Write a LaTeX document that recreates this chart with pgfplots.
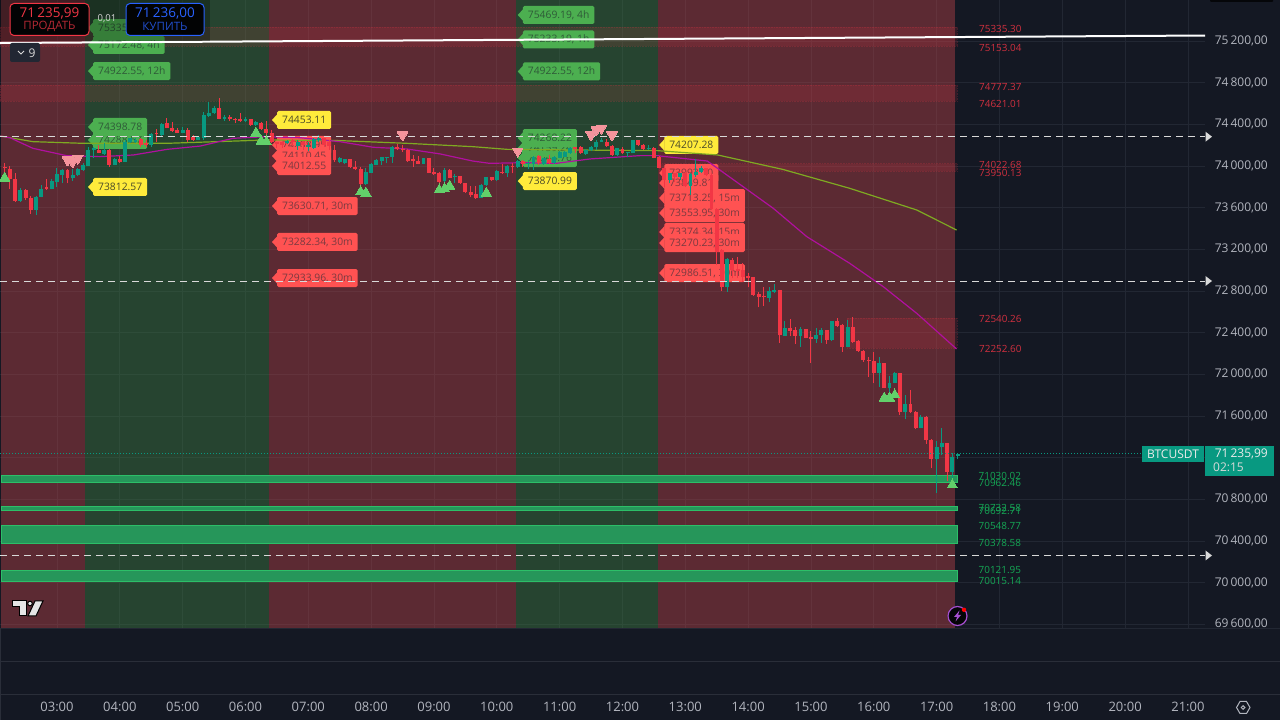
\documentclass[border=0pt]{standalone}
\usepackage{fontspec}
\setmainfont{Open Sans}
\usepackage{pgfplots}
\usepackage{pgfplotstable}
\pgfplotsset{compat=1.18}
\definecolor{bgc}{HTML}{141823}
\definecolor{gridc}{HTML}{222733}
\definecolor{sepc}{HTML}{2A2E39}
\definecolor{zr}{HTML}{B44248}
\definecolor{zg}{HTML}{3E7A41}
\definecolor{cred}{HTML}{F23645}
\definecolor{cgrn}{HTML}{089981}
\definecolor{lgrn}{HTML}{4CAF50}
\definecolor{lred}{HTML}{FF5252}
\definecolor{lyel}{HTML}{FFEB3B}
\definecolor{tick}{HTML}{B2B5BE}
\definecolor{rtxt}{HTML}{D0303F}
\definecolor{gtxt}{HTML}{14A855}
\definecolor{band}{HTML}{26965A}
\definecolor{bandl}{HTML}{2CBF68}
\definecolor{upt}{HTML}{62D06A}
\definecolor{dnt}{HTML}{F5949C}
\definecolor{ma1}{HTML}{7FAA22}
\definecolor{ma2}{HTML}{B0109F}
\definecolor{gtx}{HTML}{2F5A38}
\definecolor{rtx}{HTML}{7A3A40}
\definecolor{ytx}{HTML}{4A4A28}
\definecolor{buyb}{HTML}{2962FF}
\definecolor{purp}{HTML}{A64FD0}
\pgfplotstableread{
t o h l c
130 73990 74025 73945 73983
135 73971 73999 73779 73875
140 73878 73929 73657 73667
150 73766 73782 73673 73695
155 73695 73711 73539 73577
170 73795 73871 73769 73779
190 73961 73971 73833 73881
220 74153 74201 74121 74127
230 74153 74159 73993 74009
240 74063 74099 74031 74038
260 74255 74271 74185 74201
265 74217 74249 74185 74198
275 74319 74351 74233 74303
285 74409 74457 74361 74364
290 74364 74425 74329 74335
295 74345 74361 74313 74319
305 74345 74361 74233 74249
310 74275 74297 74239 74249
335 74559 74649 74447 74451
345 74473 74489 74435 74447
350 74447 74457 74409 74438
355 74447 74505 74425 74431
365 74451 74451 74387 74393
375 74415 74425 74345 74351
380 74351 74431 74297 74313
385 74313 74345 74217 74227
390 74233 74233 74169 74207
395 74227 74233 74175 74201
405 74249 74259 74195 74233
415 74233 74239 74153 74201
435 74265 74271 74185 74201
440 74233 74249 74153 74195
445 74153 74201 74041 74057
460 74063 74063 73983 73987
465 73987 74047 73961 73967
470 73971 73993 73817 73827
505 74182 74211 74153 74159
510 74163 74201 74137 74153
515 74156 74163 74041 74047
520 74063 74105 73993 74051
525 74051 74095 74015 74019
535 74073 74079 73929 73935
540 73942 73977 73916 73926
545 73932 73945 73839 73849
555 73961 73967 73881 73887
565 73903 73903 73827 73833
570 73833 73839 73740 73747
575 73747 73807 73699 73721
580 73727 73807 73686 73692
595 73891 73897 73859 73865
605 73945 74019 73923 73932
615 74000 74031 73929 73987
625 74047 74057 73993 74019
640 74095 74105 74012 74025
650 74063 74105 74019 74025
675 74179 74185 74121 74159
680 74185 74191 74115 74121
705 74233 74255 74185 74195
710 74195 74201 74099 74105
720 74166 74185 74115 74121
735 74249 74249 74191 74201
740 74201 74207 74153 74159
750 74169 74185 74073 74079
755 74089 74095 73977 73983
760 73977 73993 73801 73865
770 73929 73935 73849 73897
780 73935 73945 73801 73807
800 73977 73977 73903 73913
805 73913 73929 73577 73583
810 73583 73593 73049 73177
815 73193 73199 72803 72835
825 73097 73113 72921 73001
830 73007 73129 72921 72991
835 73001 73065 72889 72931
840 72943 72969 72835 72924
845 72931 72937 72755 72761
850 72771 72793 72643 72745
855 72755 72841 72655 72742
870 72809 72809 72303 72374
880 72444 72531 72367 72419
885 72425 72451 72291 72371
895 72435 72435 72345 72351
900 72355 72415 72111 72335
915 72422 72422 72291 72329
925 72511 72537 72457 72463
930 72473 72479 72217 72265
940 72451 72547 72303 72313
945 72319 72329 72217 72223
950 72223 72233 72121 72137
955 72137 72169 71977 72127
960 72127 72217 71913 72009
970 72105 72105 71865 71865
985 72009 72015 71609 71635
995 71715 71849 71631 71638
1000 71641 71651 71471 71484
1010 71593 71599 71331 71369
1015 71369 71375 71097 71190
1030 71337 71343 70979 71065
}\redT
\pgfplotstableread{
t o h l c
145 73667 73785 73657 73769
160 73577 73711 73529 73705
165 73705 73817 73699 73779
175 73779 73871 73775 73855
180 73846 73977 73801 73923
185 73910 73974 73833 73961
195 73884 73967 73855 73916
200 73913 73977 73907 73971
205 73961 74025 73951 74006
210 74000 74179 74000 74153
215 74153 74185 74073 74169
225 74115 74217 74105 74153
235 74012 74073 74006 74063
245 74041 74249 74038 74233
250 74227 74271 74217 74265
255 74227 74265 74217 74249
270 74201 74319 74185 74307
280 74297 74409 74291 74403
300 74319 74377 74313 74345
315 74252 74287 74249 74275
320 74271 74521 74249 74489
325 74479 74611 74473 74505
330 74505 74575 74499 74559
340 74451 74489 74435 74473
360 74428 74467 74422 74451
370 74393 74435 74387 74419
400 74217 74249 74207 74239
410 74195 74249 74153 74233
420 74185 74233 74143 74201
425 74175 74271 74163 74259
430 74246 74297 74233 74265
450 74035 74089 74025 74073
455 74025 74070 74015 74063
475 73827 73977 73817 73942
480 73935 74025 73929 74019
485 74012 74063 74006 74057
490 74047 74089 74009 74083
495 74079 74089 74025 74089
500 74089 74191 74031 74182
530 74019 74079 74015 74073
550 73852 73983 73839 73961
560 73897 73923 73833 73903
585 73695 73823 73689 73817
590 73817 73897 73811 73891
600 73865 73961 73859 73951
610 73935 74009 73897 74003
620 73990 74057 73983 74047
630 74019 74057 73967 74031
635 74019 74095 73961 74089
645 74019 74079 74009 74073
655 74025 74099 74019 74089
660 74079 74143 74073 74134
665 74089 74143 74083 74134
670 74121 74185 74115 74175
685 74115 74159 74108 74153
690 74153 74191 74143 74185
695 74179 74249 74153 74233
700 74233 74271 74230 74249
715 74105 74175 74099 74169
725 74131 74137 74089 74137
730 74127 74249 74121 74249
745 74159 74201 74153 74169
765 73865 73935 73833 73929
775 73891 73935 73865 73929
785 73807 73929 73721 73923
790 73913 74063 73897 73945
795 73942 74003 73929 73977
820 72835 73113 72793 73103
860 72735 72835 72697 72799
865 72793 72867 72777 72809
875 72371 72511 72367 72447
890 72367 72457 72265 72435
905 72339 72441 72303 72377
910 72380 72447 72303 72425
920 72329 72515 72323 72511
935 72265 72521 72259 72451
965 72009 72163 71881 72105
975 71865 71983 71801 71919
980 71919 72025 71913 72009
990 71638 71801 71567 71711
1005 71487 71609 71481 71593
1020 71190 71359 70857 71305
1025 71305 71481 71225 71343
1035 71065 71241 71001 71209
1040 71219 71247 71183 71236
}\grnT
\newcommand{\lab}[5]{%
  \node[fill=#1,rounded corners=1.5pt,anchor=west,minimum height=18pt,inner xsep=5pt,inner ysep=0pt,xshift=5pt,text=#2,font=\fontsize{10.3}{12}\selectfont] (n) at (axis cs:#3,#4) {#5};
  \fill[#1] (n.west) ++(0.5pt,6pt) -- ++(-5.5pt,-6pt) -- ++(5.5pt,-6pt) -- cycle;
}
\newcommand{\gl}[3]{\lab{lgrn}{gtx}{#1}{#2}{#3}}
\newcommand{\rl}[3]{\lab{lred}{rtx}{#1}{#2}{#3}}
\newcommand{\yl}[3]{\lab{lyel}{ytx}{#1}{#2}{#3}}
\pgfplotsset{
  wick/.style={draw=none,no markers,forget plot,error bars/.cd,y dir=plus,y explicit,error mark=none,error bar style={draw=#1,solid,line width=1pt}},
  body/.style={draw=none,no markers,forget plot,error bars/.cd,y dir=plus,y explicit,error mark=none,error bar style={draw=#1,solid,line width=3.9pt}},
}
\begin{document}
\begin{tikzpicture}
\clip (0,0) rectangle (1280pt,720pt);
\fill[bgc] (0,0) rectangle (1280pt,720pt);
\begin{axis}[
  at={(0,0)},anchor=south west,
  width=1280pt,height=720pt,scale only axis,
  xmin=125.57,xmax=1347.9,ymin=68681,ymax=75593,
  axis line style={draw=none},
  tick style={draw=none},
  clip=true,
  xtick={180,240,300,360,420,480,540,600,660,720,780,840,900,960,1020,1080,1140,1200,1260},
  xticklabels={03:00,04:00,05:00,06:00,07:00,08:00,09:00,10:00,11:00,12:00,13:00,14:00,15:00,16:00,17:00,18:00,19:00,20:00,21:00},
  xticklabel style={anchor=center,yshift=13pt,font=\fontsize{13}{15}\selectfont,text=tick},
  ytick={69600,70000,70400,70800,71200,71600,72000,72400,72800,73200,73600,74000,74400,74800,75200},
  yticklabels={69\,600{,}00,70\,000{,}00,70\,400{,}00,70\,800{,}00,,71\,600{,}00,72\,000{,}00,72\,400{,}00,72\,800{,}00,73\,200{,}00,73\,600{,}00,74\,000{,}00,74\,400{,}00,74\,800{,}00,75\,200{,}00},
  yticklabel pos=right,
  yticklabel style={anchor=east,xshift=-12pt,font=\fontsize{12}{14}\selectfont,text=tick},
  every tick label/.append style={inner sep=0pt},
]
% grid
\pgfplotsinvokeforeach{180,240,300,360,420,480,540,600,660,720,780,840,900,960,1020,1080,1140,1200,1260}{\addplot[gridc,line width=0.8pt,forget plot] coordinates {(#1,69564) (#1,75593)};}
\pgfplotsinvokeforeach{69600,70000,70400,70800,71200,71600,72000,72400,72800,73200,73600,74000,74400,74800,75200}{\addplot[gridc,line width=0.8pt,forget plot] coordinates {(125.57,#1) (1276,#1)};}
% zones
\addplot[fill=zr,fill opacity=.45,draw=none] coordinates {(126.5,69564)(206.7,69564)(206.7,75593)(126.5,75593)} --cycle;
\addplot[fill=zg,fill opacity=.45,draw=none] coordinates {(206.7,69564)(382.4,69564)(382.4,75593)(206.7,75593)} --cycle;
\addplot[fill=zr,fill opacity=.45,draw=none] coordinates {(382.4,69564)(618.3,69564)(618.3,75593)(382.4,75593)} --cycle;
\addplot[fill=zg,fill opacity=.45,draw=none] coordinates {(618.3,69564)(754,69564)(754,75593)(618.3,75593)} --cycle;
\addplot[fill=zr,fill opacity=.45,draw=none] coordinates {(754,69564)(1037.5,69564)(1037.5,75593)(754,75593)} --cycle;
% red bands
\addplot[fill=cred,fill opacity=.13,draw=cred,draw opacity=.2,line width=.6pt,densely dotted] coordinates {(125.6,75153.04)(1039.5,75153.04)(1039.5,75335.30)(125.6,75335.30)} --cycle;
\addplot[fill=cred,fill opacity=.13,draw=cred,draw opacity=.2,line width=.6pt,densely dotted] coordinates {(125.6,74621.01)(1039.5,74621.01)(1039.5,74777.37)(125.6,74777.37)} --cycle;
\addplot[fill=cred,fill opacity=.13,draw=cred,draw opacity=.2,line width=.6pt,densely dotted] coordinates {(755,73950.13)(1039.5,73950.13)(1039.5,74022.68)(755,74022.68)} --cycle;
\addplot[fill=cred,fill opacity=.13,draw=cred,draw opacity=.2,line width=.6pt,densely dotted] coordinates {(934.4,72252.60)(1039.5,72252.60)(1039.5,72540.26)(934.4,72540.26)} --cycle;
% green bands
\addplot[fill=band,draw=bandl,line width=.6pt] coordinates {(126.5,70962.46)(1040,70962.46)(1040,71030.02)(126.5,71030.02)} --cycle;
\addplot[fill=band,draw=bandl,line width=.6pt] coordinates {(126.5,70692.71)(1040,70692.71)(1040,70732.58)(126.5,70732.58)} --cycle;
\addplot[fill=band,draw=bandl,line width=.6pt] coordinates {(126.5,70378.58)(1040,70378.58)(1040,70548.77)(126.5,70548.77)} --cycle;
\addplot[fill=band,draw=bandl,line width=.6pt] coordinates {(126.5,70015.14)(1040,70015.14)(1040,70121.95)(126.5,70121.95)} --cycle;
% labels
\gl{209.6}{75324}{75335.30}
\gl{209.6}{75161}{75172.48, 4h}
\gl{209.6}{74911}{74922.55, 12h}
\gl{209.6}{74249}{74288.57}
\gl{209.6}{74374}{74398.78}
\yl{209.6}{73798}{73812.57}
\yl{385.3}{74441}{74453.11}
\rl{385.3}{74201}{74208.95}
\rl{385.3}{74095}{74110.45}
\rl{385.3}{73999}{74012.55}
\rl{385.3}{73615}{73630.71, 30m}
\rl{385.3}{73270}{73282.34, 30m}
\rl{385.3}{72924}{72933.96, 30m}
\gl{620}{75449}{75469.19, 4h}
\gl{620}{75214}{75233.19, 1h}
\gl{620}{74907}{74922.55, 12h}
\gl{620}{74076}{74044.76}
\gl{620}{74172}{74159.24}
\gl{620}{74268}{74268.22}
\yl{620}{73855}{73870.99}
\rl{755}{73932}{73993.10}
\rl{755}{73836}{73849.81}
\rl{755}{73692}{73713.25, 15m}
\rl{755}{73366}{73374.34, 15m}
\rl{755}{73548}{73553.95, 30m}
\rl{755}{73260}{73270.23, 30m}
\rl{755}{72972}{72986.51, 30m}
\yl{755}{74201}{74207.28}
% moving averages
\addplot[ma1,line width=1.2pt] coordinates {(126,74287)(135,74271)(157,74233)(205,74217)(285,74217)(380,74249)(450,74243)(514,74217)(577,74185)(610,74159)(673,74153)(753,74147)(811,74105)(873,73967)(937,73785)(1001,73577)(1039,73385)};
\addplot[ma2,line width=1.2pt] coordinates {(126,74287)(135,74271)(157,74169)(189,74099)(221,74089)(253,74105)(285,74159)(317,74191)(348,74265)(380,74281)(412,74271)(450,74233)(482,74179)(514,74163)(546,74115)(577,74047)(593,74025)(625,74031)(657,74025)(689,74067)(737,74099)(753,74099)(756,74095)(801,74047)(813,73961)(864,73593)(896,73321)(937,73065)(969,72841)(1001,72585)(1039,72243)};
% candles: wicks then bodies
\addplot[wick=cred] table[x=t,y=l,y error plus expr=\thisrow{h}-\thisrow{l},y error minus expr=0] {\redT};
\addplot[wick=cgrn] table[x=t,y=l,y error plus expr=\thisrow{h}-\thisrow{l},y error minus expr=0] {\grnT};
\addplot[body=cred] table[x=t,y=c,y error plus expr=\thisrow{o}-\thisrow{c},y error minus expr=0] {\redT};
\addplot[body=cgrn] table[x=t,y=o,y error plus expr=\thisrow{c}-\thisrow{o},y error minus expr=0] {\grnT};
% triangles
\addplot[upt,only marks,mark=triangle*,mark size=6pt,mark options={fill=upt,draw=upt,line width=0pt}] coordinates {(130,73884)(370,74316)(375,74239)(380,74230)(470,73750)(475,73740)(545,73769)(550,73779)(555,73807)(590,73740)(970,71772)(975,71772)(980,71801)(1035,70937)};
\addplot[dnt,only marks,mark=triangle*,mark size=6pt,mark options={fill=dnt,draw=dnt,line width=0pt,rotate=180}] coordinates {(190,74057)(195,74038)(200,74076)(510,74297)(620,74143)(690,74297)(695,74345)(700,74364)(710,74297)};
% horizontal lines
\addplot[white!85!black,line width=1pt,dash pattern=on 7pt off 5pt] coordinates {(125.6,74281)(1276,74281)};
\addplot[white!85!black,line width=1pt,dash pattern=on 7pt off 5pt] coordinates {(125.6,72895)(1276,72895)};
\addplot[white!85!black,line width=1pt,dash pattern=on 7pt off 5pt] coordinates {(125.6,70260)(1276,70260)};
\addplot[cgrn,line width=1pt,dash pattern=on 1pt off 2pt] coordinates {(125.6,71236)(1216,71236)};
\addplot[white,line width=2pt] coordinates {(125.6,75180)(1276.3,75252)};
\end{axis}
\begin{scope}[x=1pt,y=-1pt,shift={(0pt,720pt)}]
\draw[sepc,line width=.8pt] (0,661) -- (1280,661);
\draw[sepc,line width=.8pt] (0,694.5) -- (1280,694.5);
\draw[gridc,line width=.8pt] (0,628.5) -- (1280,628.5);
\foreach \y in {136.7,281,555.5} {\fill[white!85!black] (1205.5,\y-5) -- (1212,\y) -- (1205.5,\y+5) -- cycle;}
\tikzset{rv/.style={anchor=west,inner sep=0pt,font=\fontsize{9.9}{11}\selectfont}}
\foreach \y/\t in {29/75335.30,47.5/75153.04,87/74777.37,104/74621.01,165/74022.68,172.5/73950.13,319/72540.26,349/72252.60}{\node[rv,text=rtxt] at (979,\y) {\t};}
\foreach \y/\t in {476/71030.02,482.5/70962.46,508/70732.58,511/70692.71,525.5/70548.77,543/70378.58,569.5/70121.95,581/70015.14}{\node[rv,text=gtxt] at (978.5,\y) {\t};}
\fill[cgrn] (1142,446) rectangle (1204,462);
\node[inner sep=0pt,text=white!92!black,font=\fontsize{12}{14}\selectfont] at (1173,454) {BTCUSDT};
\fill[cgrn] (1205,446) rectangle (1274,476);
\node[anchor=east,inner sep=0pt,text=white!92!black,font=\fontsize{12}{14}\selectfont] at (1268,454) {71\,235,99};
\node[anchor=west,inner sep=0pt,text=white!85!black,font=\fontsize{12}{14}\selectfont] at (1213,467) {02:15};
\fill[black,opacity=.28] (0,0) rectangle (210,41);
\fill[black!88!bgc,rounded corners=4pt] (10,3.5) rectangle (89,35.5);
\draw[cred,line width=1pt,rounded corners=4pt] (10,3.5) rectangle (89,35.5);
\node[inner sep=0pt,text=cred,font=\fontsize{13.5}{15}\selectfont] at (49.5,13.5) {71\,235,99};
\node[inner sep=0pt,text=cred!75!black,font=\fontsize{11.5}{13}\selectfont] at (49.5,26.5) {ПРОДАТЬ};
\fill[black!88!bgc,rounded corners=4pt] (126,3.5) rectangle (204,35.5);
\draw[buyb,line width=1pt,rounded corners=4pt] (126,3.5) rectangle (204,35.5);
\node[inner sep=0pt,text=buyb,font=\fontsize{13.5}{15}\selectfont] at (165,13.5) {71\,236,00};
\node[inner sep=0pt,text=buyb!80!black,font=\fontsize{11.5}{13}\selectfont] at (165,26.5) {КУПИТЬ};
\node[inner sep=0pt,text=white!85!black,font=\fontsize{9.5}{11}\selectfont] at (107,19) {0,01};
\fill[gridc,rounded corners=2pt] (10,43) rectangle (40,62);
\draw[white!85!black,line width=.9pt] (18,51) -- (21,54) -- (24,51);
\node[inner sep=0pt,text=white!85!black,font=\fontsize{12}{14}\selectfont] at (32,53) {9};
\fill[black!75!bgc,rounded corners=1pt] (1210,-2) rectangle (1273,2);
\begin{scope}[line width=1pt,draw=black,fill=white!90!black]
\filldraw (12,601) -- (26,601) -- (26,616) -- (19,616) -- (19,607) -- (12,607) -- cycle;
\filldraw (30,603.5) circle (2.3);
\filldraw (35,601) -- (43,601) -- (36,616) -- (28,616) -- cycle;
\end{scope}
\fill[black!80!bgc] (957.5,616) circle (10);
\draw[purp,line width=1.2pt] (957.5,616) circle (9.5);
\fill[purp] (959.5,610.5) -- (954,617) -- (957,617) -- (955.5,621.5) -- (961,615) -- (958,615) -- cycle;
\fill[red] (964,609.8) circle (2.2);
\draw[tick,line width=1pt] (1236.5,707.5) -- (1240,701.5) -- (1246.5,701.5) -- (1250,707.5) -- (1246.5,713.5) -- (1240,713.5) -- cycle;
\draw[tick,line width=1pt] (1243,707.5) circle (1.8);
\draw[sepc,line width=1pt] (0.4,628) -- (0.4,720);
\end{scope}
\end{tikzpicture}
\end{document}
